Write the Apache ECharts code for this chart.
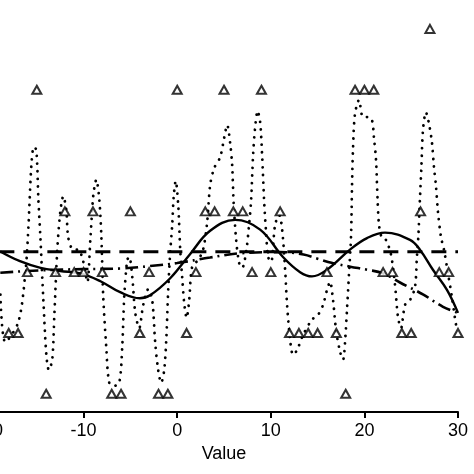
<!DOCTYPE html>
<html>
<head>
<meta charset="utf-8">
<script src="https://cdn.jsdelivr.net/npm/echarts@6/dist/echarts.min.js"></script>
<style>html,body{margin:0;padding:0;background:#fff;overflow:hidden;width:474px;height:474px;position:relative;}#c{position:absolute;left:-10px;top:0;width:484px;height:474px;}</style>
</head>
<body>
<div id="c"></div>
<script>
// Observed points (triangles)
const obsX = [-18,-17,-16,-15,-14,-13,-12,-11,-10,-9,-8,-7,-6,-5,-4,-3,-2,-1,0,1,2,3,4,5,6,7,8,9,10,11,12,13,14,15,16,17,18,19,20,21,22,23,24,25,26,27,28,29,30];
const obsY = [2,2,3,6,1,3,4,3,3,4,3,1,1,4,2,3,1,1,6,2,3,4,4,6,4,4,3,6,3,4,2,2,2,2,3,2,1,6,6,6,3,3,2,2,4,7,3,3,2];

// Dashed horizontal line
const dashedLine = [[-19,3.334],[30,3.334]];

// Solid smooth curve
const solidLine = [[-18.9,3.34],[-16.8,3.18],[-14.6,3.07],[-12.5,3.02],[-10.35,2.98],[-8.2,2.85],[-6.1,2.67],[-4,2.57],[-2.9,2.62],[-0.75,2.9],[1.39,3.3],[3.52,3.68],[6.2,3.86],[8.86,3.7],[11.3,3.25],[13.13,3.0],[14.4,2.93],[16,3.04],[18.46,3.37],[20.28,3.56],[22.2,3.65],[24.87,3.53],[25.93,3.37],[27.32,3.04],[28.82,2.71],[30,2.33]];

// Dash-dot curve
const dashDotLine = [[-18.9,2.99],[-14.6,3.03],[-10,3.05],[-6,3.06],[-2.9,3.1],[0,3.15],[3.5,3.24],[6.7,3.31],[11,3.33],[13.5,3.29],[15,3.22],[16.6,3.15],[18.5,3.09],[20.3,3.04],[22,2.98],[23.8,2.83],[26.3,2.63],[28.4,2.43],[30,2.33]];

// Dotted wiggly curve
const dottedLine = [[-18.89,2.63],[-18.36,1.85],[-16.97,2.18],[-16.22,2.99],[-15.9,3.73],[-15.58,4.76],[-15.31,5.06],[-15.05,5.01],[-14.83,4.19],[-14.62,3.58],[-14.3,2.54],[-13.98,1.64],[-13.71,1.39],[-13.35,1.56],[-13.13,2.27],[-12.81,3.37],[-12.49,3.99],[-12.17,4.25],[-11.85,4.02],[-11.63,3.56],[-11.1,3.37],[-10.57,3.37],[-10.03,3.17],[-9.6,2.84],[-9.28,3.53],[-8.96,4.27],[-8.64,4.52],[-8.32,4.19],[-8.11,3.61],[-7.9,2.59],[-7.58,1.77],[-7.26,1.18],[-6.72,1.13],[-6.19,1.18],[-5.87,1.77],[-5.66,2.59],[-5.34,3.2],[-5.12,3.25],[-4.8,2.92],[-4.48,2.33],[-4.06,2.08],[-3.63,2.46],[-3.09,2.72],[-2.67,2.54],[-2.35,1.84],[-2.03,1.39],[-1.71,1.18],[-1.39,1.39],[-1.17,1.88],[-0.96,2.71],[-0.75,3.32],[-0.53,3.78],[-0.37,4.25],[-0.16,4.5],[0.11,4.1],[0.32,3.37],[0.53,2.92],[0.75,2.49],[1.01,2.25],[1.28,2.54],[1.6,3.09],[2.24,3.2],[2.77,3.37],[3.2,3.82],[3.52,4.43],[3.95,4.71],[4.59,4.89],[5.02,5.21],[5.34,5.42],[5.66,5.12],[5.87,4.76],[6.03,4.14],[6.3,3.53],[6.62,3.15],[6.94,3.07],[7.36,3.33],[7.68,3.78],[7.9,4.19],[8.11,4.93],[8.32,5.37],[8.59,5.65],[8.86,5.47],[9.07,4.93],[9.28,4.19],[9.5,3.64],[9.71,3.25],[10.03,3.17],[10.46,3.78],[10.89,3.94],[11.21,3.7],[11.53,3.04],[11.74,2.46],[12.06,1.89],[12.38,1.64],[12.81,1.72],[13.45,1.97],[14.41,2.22],[15.05,2.3],[15.58,2.46],[16.01,2.71],[16.33,2.84],[16.65,2.54],[16.97,2.05],[17.4,1.69],[17.72,1.56],[17.93,1.84],[18.14,2.38],[18.36,2.99],[18.57,3.58],[18.68,4.43],[18.78,5.01],[18.99,5.6],[19.42,5.83],[19.85,5.55],[20.38,5.55],[20.81,5.5],[21.02,5.21],[21.24,4.85],[21.4,4.22],[21.56,3.78],[21.88,3.56],[22.3,3.53],[22.84,3.29],[23.27,2.79],[23.59,2.26],[23.91,2.08],[24.34,2.46],[24.87,2.54],[25.4,2.75],[25.61,3.25],[25.77,3.61],[25.93,4.19],[26.09,4.73],[26.26,5.34],[26.57,5.63],[26.89,5.45],[27.21,5.14],[27.43,4.73],[27.64,4.43],[27.86,3.99],[28.18,3.58],[28.5,3.37],[28.92,2.99],[29.35,2.59],[29.67,2.25],[29.88,2.05]];

// Axis
const xMin = -20, xMax = 30, xStep = 10;
const xName = 'Value';

const chart = echarts.init(document.getElementById('c'), null, {renderer: 'canvas'});
const font = '"Liberation Sans", Arial, sans-serif';
chart.setOption({
  animation: false,
  backgroundColor: '#fff',
  grid: {left: 0, right: 16, top: 10.7, bottom: 62, containLabel: false, outerBoundsMode: 'none'},
  xAxis: {
    type: 'value', min: xMin, max: xMax, interval: xStep,
    name: xName, nameLocation: 'middle', nameGap: 31,
    nameTextStyle: {color: '#000', fontSize: 18, fontFamily: font},
    axisLine: {show: true, onZero: false, lineStyle: {color: '#000', width: 2}},
    axisTick: {show: true, length: 6, lineStyle: {color: '#000', width: 2}},
    axisLabel: {color: '#000', fontSize: 18, fontFamily: font, margin: 10},
    splitLine: {show: false}
  },
  yAxis: {
    type: 'value', min: 0.7, max: 7.3, show: false,
    splitLine: {show: false}
  },
  series: [
    {type: 'line', data: dottedLine, smooth: 0.3, showSymbol: false, z: 2,
     lineStyle: {color: '#000', width: 2.8, type: [0.1, 7.5], cap: 'round'}},
    {type: 'line', data: dashedLine, showSymbol: false, z: 3,
     lineStyle: {color: '#000', width: 3, type: [15, 9]}},
    {type: 'line', data: dashDotLine, smooth: 0.4, showSymbol: false, z: 3,
     lineStyle: {color: '#000', width: 2.6, type: [13, 5, 2, 5]}},
    {type: 'line', data: solidLine, smooth: 0.4, showSymbol: false, z: 4,
     lineStyle: {color: '#000', width: 2.4}},
    {type: 'scatter', data: obsX.map((x, i) => [x, obsY[i]]), symbol: 'triangle', symbolSize: [9, 8], z: 5,
     itemStyle: {color: '#fff', borderColor: '#000', borderWidth: 2}}
  ]
});
</script>
</body>
</html>
